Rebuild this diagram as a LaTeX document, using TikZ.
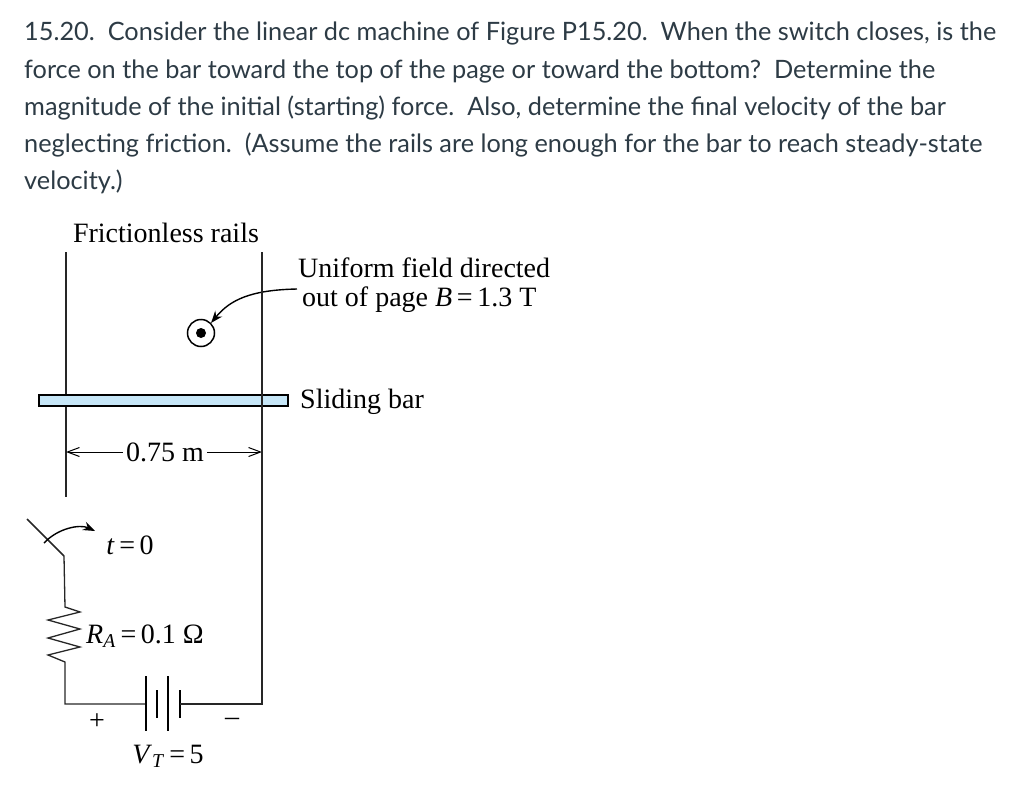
\documentclass[tikz,border=0pt]{standalone}
\usepackage{fontspec}
\setmainfont{Liberation Serif}
\newfontfamily\latofont{Lato}
\usetikzlibrary{arrows.meta}
\definecolor{barblue}{HTML}{C6E6F7}
\definecolor{txt}{HTML}{2D3B45}
\newcommand{\myeq}{\,=\,}
\begin{document}
\begin{tikzpicture}[x=1pt,y=-1pt,
  wire/.style={line width=1.3pt,black!85},
  para/.style={anchor=west,inner sep=0,font=\latofont\fontsize{25.3}{29}\selectfont,text=txt},
  lbl/.style={inner sep=0,font=\fontsize{28}{32}\selectfont}]
\useasboundingbox (0,0) rectangle (1024,789);
\node[para] (p1) at (24,33) {15.20.\ \ Consider the linear dc machine of Figure P15.20.\ \ When the switch closes, is the};
\node[para] (p2) at (24,71) {force on the bar toward the top of the page or toward the bottom?\ \ Determine the};
\node[para] (p3) at (24,108) {magnitude of the initial (starting) force.\ \ Also, determine the final velocity of the bar};
\node[para] (p4) at (24,145) {neglecting friction.\ \ (Assume the rails are long enough for the bar to reach steady-state};
\node[para] (p5) at (24,182) {velocity.)};
\node[lbl] (fr) at (166,233) {Frictionless rails};
\node[lbl,anchor=west] (uf1) at (298,268) {Uniform field directed};
\node[lbl,anchor=west] (uf2) at (302,300) {out of page \textit{B}\myeq 1.3 T};
\node[lbl,anchor=west] (sb) at (300,402) {Sliding bar};
% rails
\coordinate (lt) at (66,252); \coordinate (lb) at (66,497);
\coordinate (rt) at (262,252); \coordinate (rb) at (262,704);
\draw[wire] (lt) -- (lb);
% bar
\node[draw,line width=1.2pt,fill=barblue,minimum width=249pt,minimum height=11pt,inner sep=0] (bar) at (163.5,400.5) {};
% field symbol
\node[draw,circle,line width=1.5pt,minimum size=27pt,inner sep=0] (dot) at (201,333) {};
\fill (dot.center) circle (5pt);
\draw[line width=1.4pt,-{Stealth[length=12pt,width=9pt]}] (297,289) .. controls (250,290) and (230,300) .. (dot.north east);
% dimension
\node[lbl,fill=white,inner xsep=3pt] (dim) at (165,452) {0.75 m};
\draw[line width=1pt,-{Straight Barb[length=12pt,width=9pt]}] (dim.west) -- (66,452);
\draw[line width=1pt,-{Straight Barb[length=12pt,width=9pt]}] (dim.east) -- (262,452);
% switch
\coordinate (s1) at (27,519); \coordinate (s2) at (64,556);
\draw[wire,line width=1.6pt] (s1) -- (s2);
\draw[line width=1.4pt,-{Stealth[length=12pt,width=9pt]}] (44,543) .. controls (58,528) and (80,524) .. (95,531);
\node[lbl] (t0) at (130,545) {\textit{t}\myeq 0};
% resistor
\coordinate (r1) at (65,607); \coordinate (r2) at (65,662);
\draw[wire] (s2) -- (r1) -- (80,612) -- (48,620) -- (80,629) -- (48,638) -- (80,647) -- (48,655) -- (r2) -- (65,704) -- (146,704);
\node[lbl,anchor=west] (ra) at (86,636) {\textit{R}\textsubscript{\textit{A}}\myeq 0.1 Ω};
% battery
\draw[line width=2pt] (146,676) -- (146,731);
\draw[line width=2pt] (157,690) -- (157,718);
\draw[line width=2pt] (168,676) -- (168,731);
\draw[line width=2pt] (180,690) -- (180,718);
\draw[wire] (180,704) -- (rb) -- (rt);
\node[lbl] (plus) at (97,722) {+};
\node[lbl] (minus) at (232,722) {–};
\node[lbl] (vt) at (168,756) {\textit{V}\textsubscript{\textit{T}}\myeq 5};
\end{tikzpicture}
\end{document}
